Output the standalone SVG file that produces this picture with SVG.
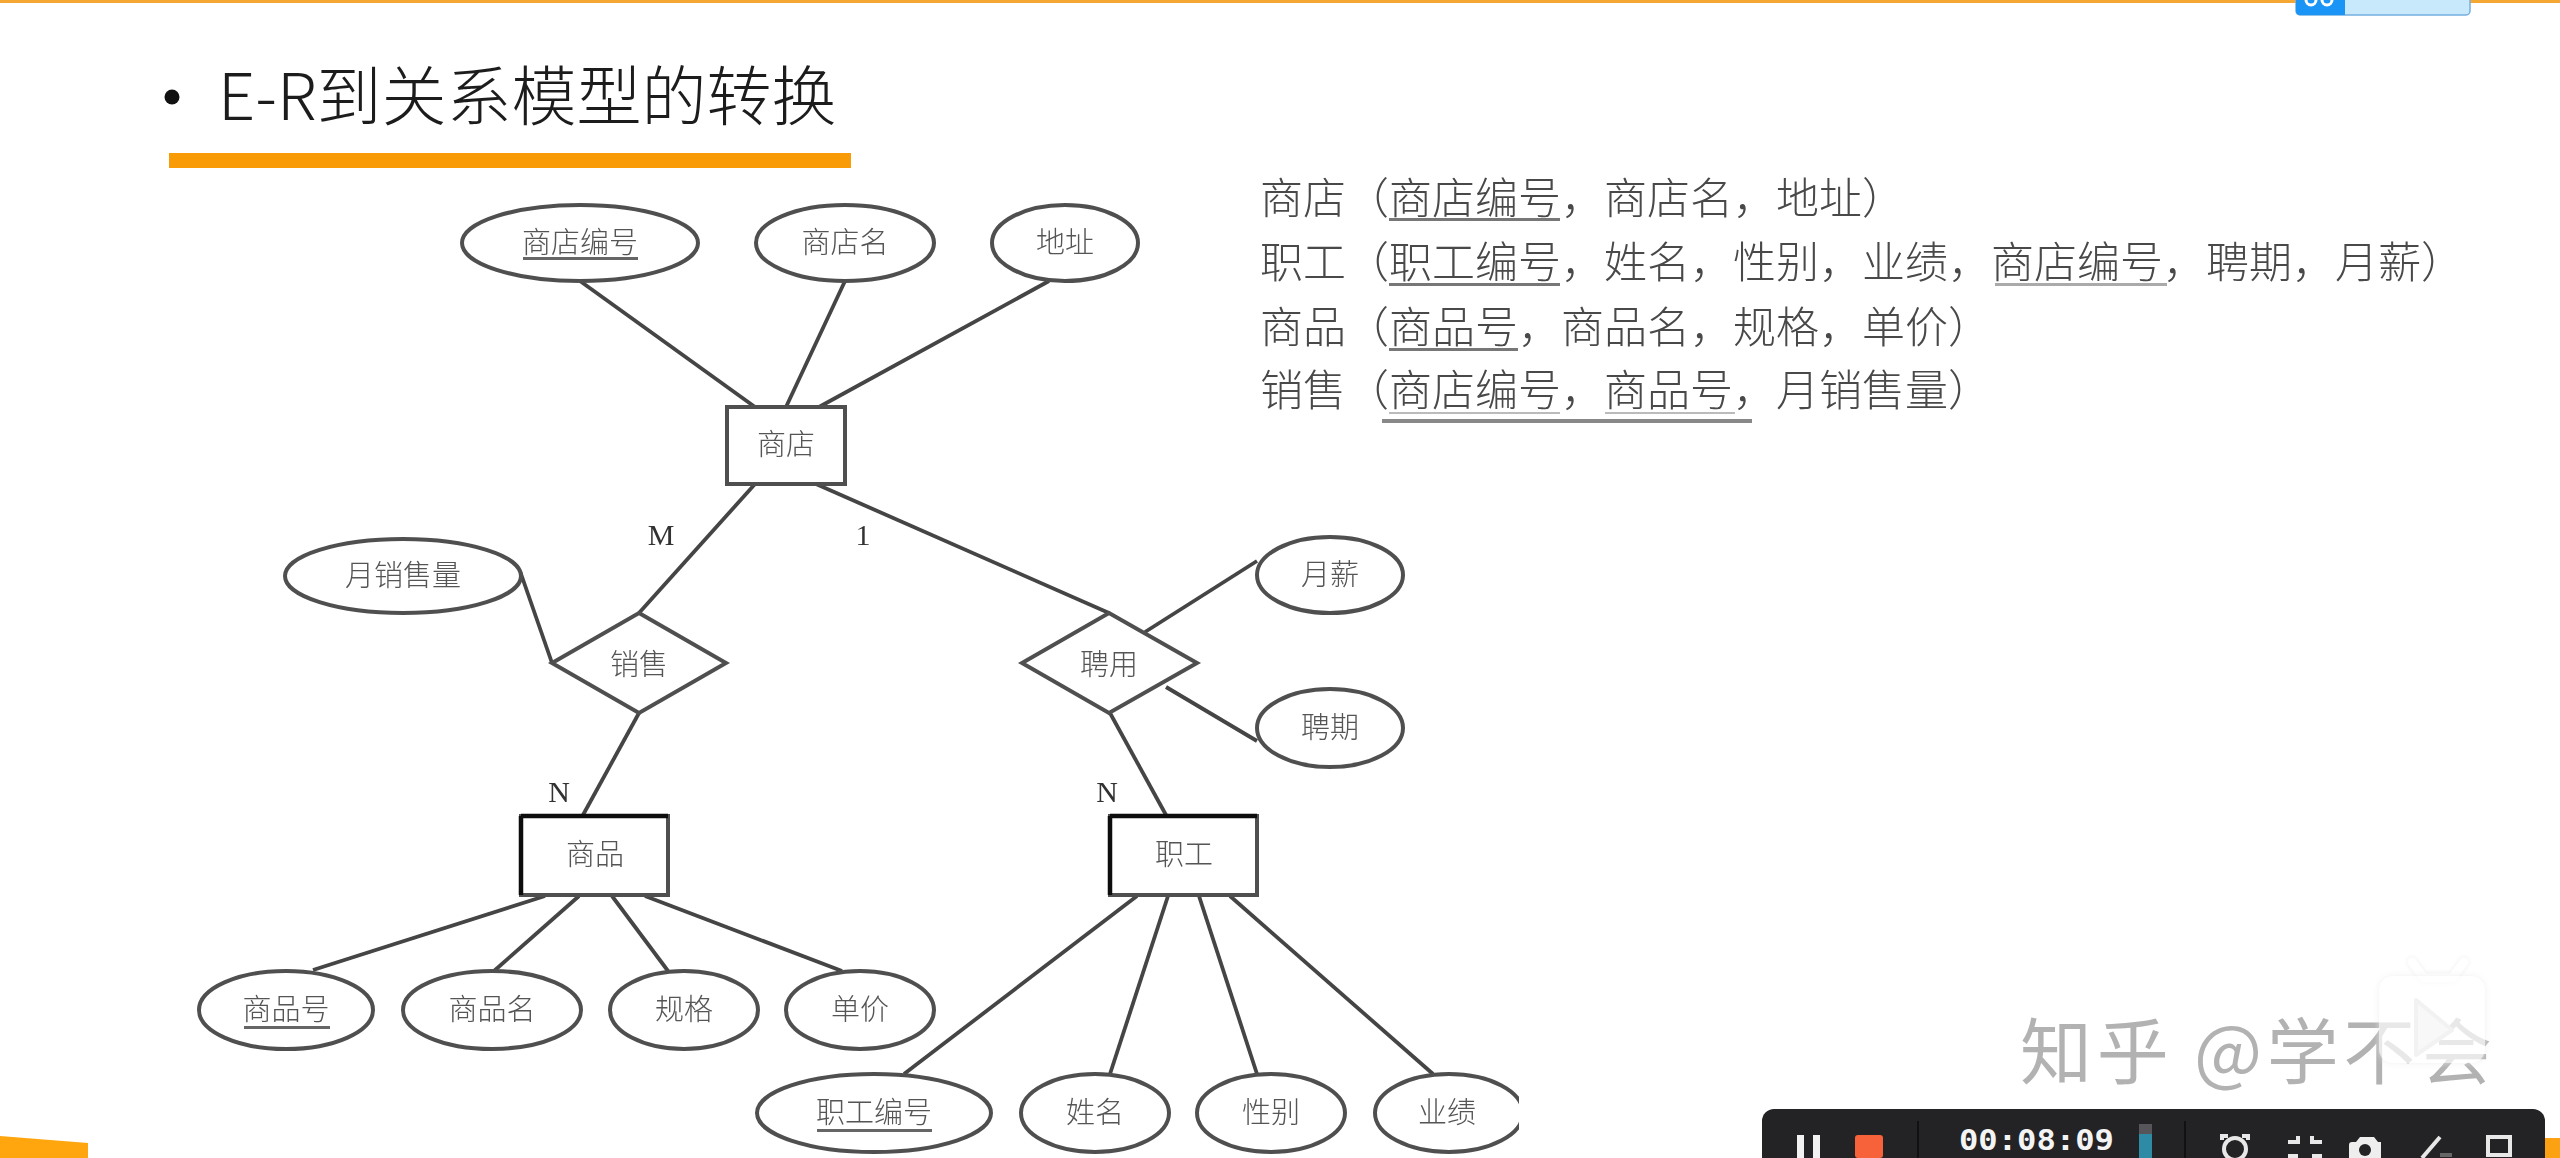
<svg xmlns="http://www.w3.org/2000/svg" width="2560" height="1158" viewBox="0 0 2560 1158">
<style>
text{font-family:"Noto Sans CJK SC","Noto Sans",sans-serif}
.l{font-size:29px;fill:#555;text-anchor:middle;font-weight:300}
.s{fill:#fff;stroke:#505050;stroke-width:4}
.c line{stroke:#444;stroke-width:3.8}
.m{font-family:"Liberation Serif",serif;font-size:30px;fill:#333;text-anchor:middle}
.r{font-size:43px;fill:#484848;font-weight:300}
.u{fill:#666}
.f{fill:#777}
.i{fill:none;stroke:#e8e8e8;stroke-width:4}
</style>
<defs><filter id="b" x="-5%" y="-5%" width="110%" height="110%"><feGaussianBlur stdDeviation="0.7"/></filter></defs>
<rect width="2560" height="1158" fill="#fff"/>
<rect width="2560" height="3" fill="#f5a733"/>
<g id="badge"><rect x="2296" y="-6" width="174" height="21" rx="4" fill="#c8e8fb" stroke="#74aee0" stroke-width="1.5"/><path d="M2296 0H2345V15H2300a4 4 0 0 1-4-4Z" fill="#1a95f5"/><circle cx="2311" cy="0" r="5" fill="none" stroke="#fff" stroke-width="3"/><circle cx="2327" cy="0" r="5" fill="none" stroke="#fff" stroke-width="3"/></g>
<g id="title">
<circle cx="172" cy="97" r="7.5" fill="#111"/>
<text x="218" y="120" font-size="65" fill="#1c1c1c" font-weight="300">E-R到关系模型的转换</text>
<rect x="169" y="153" width="682" height="15" fill="#f99b06"/>
</g>
<g filter="url(#b)">
<g id="connectors" class="c">
<line x1="580" y1="281" x2="755" y2="407"/>
<line x1="845" y1="281" x2="786" y2="407"/>
<line x1="1049" y1="281" x2="819" y2="407"/>
<line x1="755" y1="484" x2="639" y2="613"/>
<line x1="816" y1="484" x2="1109" y2="613"/>
<line x1="520" y1="571" x2="552" y2="663"/>
<line x1="1257" y1="561" x2="1145" y2="632"/>
<line x1="1166" y1="687" x2="1257" y2="741"/>
<line x1="639" y1="713" x2="583" y2="815"/>
<line x1="1110" y1="713" x2="1166" y2="815"/>
<line x1="545" y1="896" x2="313" y2="970"/>
<line x1="579" y1="896" x2="494" y2="971"/>
<line x1="612" y1="896" x2="668" y2="971"/>
<line x1="645" y1="896" x2="842" y2="971"/>
<line x1="1137" y1="896" x2="904" y2="1074"/>
<line x1="1168" y1="896" x2="1110" y2="1074"/>
<line x1="1199" y1="896" x2="1257" y2="1074"/>
<line x1="1230" y1="896" x2="1433" y2="1074"/>
</g>
<g id="n-store-no"><ellipse class="s" cx="580" cy="243" rx="118" ry="38"/><text class="l" x="580" y="253">商店编号</text><rect class="u" x="523" y="257" width="115" height="3"/></g>
<g id="n-store-name"><ellipse class="s" cx="845" cy="243" rx="89" ry="38"/><text class="l" x="845" y="253">商店名</text></g>
<g id="n-addr"><ellipse class="s" cx="1065" cy="243" rx="73" ry="38"/><text class="l" x="1065" y="253">地址</text></g>
<g id="n-store"><rect class="s" x="727" y="407" width="118" height="77"/><text class="l" x="786" y="455">商店</text></g>
<text class="m" x="661" y="545">M</text>
<text class="m" x="863" y="545">1</text>
<g id="n-monthly-sales"><ellipse class="s" cx="403" cy="576" rx="118" ry="37"/><text class="l" x="403" y="586">月销售量</text></g>
<g id="n-sales"><polygon class="s" points="639,613 726,663 639,713 552,663"/><text class="l" x="639" y="675">销售</text></g>
<g id="n-hire"><polygon class="s" points="1109,613 1197,663 1109,713 1022,663"/><text class="l" x="1109" y="675">聘用</text></g>
<g id="n-salary"><ellipse class="s" cx="1330" cy="575" rx="73" ry="38"/><text class="l" x="1330" y="585">月薪</text></g>
<g id="n-term"><ellipse class="s" cx="1330" cy="728" rx="73" ry="39"/><text class="l" x="1330" y="738">聘期</text></g>
<text class="m" x="559" y="802">N</text>
<text class="m" x="1107" y="802">N</text>
<g id="n-goods"><rect class="s" x="521" y="816" width="147" height="79"/><path d="M521 816H668M521 816V895" fill="none" stroke="#111" stroke-width="4.5"/><text class="l" x="595" y="865">商品</text></g>
<g id="n-staff"><rect class="s" x="1110" y="816" width="147" height="79"/><path d="M1110 816H1257M1110 816V895" fill="none" stroke="#111" stroke-width="4.5"/><text class="l" x="1184" y="865">职工</text></g>
<g id="n-goods-no"><ellipse class="s" cx="286" cy="1010" rx="87" ry="39"/><text class="l" x="286" y="1020">商品号</text><rect class="u" x="244" y="1026" width="86" height="3"/></g>
<g id="n-goods-name"><ellipse class="s" cx="492" cy="1010" rx="89" ry="39"/><text class="l" x="492" y="1020">商品名</text></g>
<g id="n-spec"><ellipse class="s" cx="684" cy="1010" rx="74" ry="39"/><text class="l" x="684" y="1020">规格</text></g>
<g id="n-price"><ellipse class="s" cx="860" cy="1010" rx="74" ry="39"/><text class="l" x="860" y="1020">单价</text></g>
<g id="n-staff-no"><ellipse class="s" cx="874" cy="1113" rx="117" ry="39"/><text class="l" x="874" y="1123">职工编号</text><rect class="u" x="817" y="1129" width="115" height="3"/></g>
<g id="n-sname"><ellipse class="s" cx="1095" cy="1113" rx="74" ry="39"/><text class="l" x="1095" y="1123">姓名</text></g>
<g id="n-sex"><ellipse class="s" cx="1271" cy="1113" rx="74" ry="39"/><text class="l" x="1271" y="1123">性别</text></g>
<g id="n-perf"><ellipse class="s" cx="1449" cy="1113" rx="74" ry="39"/><text class="l" x="1447" y="1123">业绩</text><rect x="1519" y="1070" width="6" height="86" fill="#fff"/></g>
</g>
<g id="schema" filter="url(#b)">
<text class="r" x="1260" y="214">商店（商店编号，商店名，地址）</text>
<text class="r" x="1260" y="278">职工（职工编号，姓名，性别，业绩，商店编号，聘期，月薪）</text>
<text class="r" x="1260" y="343">商品（商品号，商品名，规格，单价）</text>
<text class="r" x="1260" y="406">销售（商店编号，商品号，月销售量）</text>
<rect class="f" x="1389" y="218" width="171" height="3"/>
<rect class="f" x="1389" y="283" width="171" height="3"/>
<rect x="1995" y="283" width="172" height="3" fill="#aaa"/>
<rect class="f" x="1389" y="348" width="129" height="3"/>
<rect x="1389" y="412" width="171" height="2" fill="#bbb"/>
<rect x="1605" y="412" width="130" height="2" fill="#bbb"/>
<rect x="1382" y="419" width="370" height="4" fill="#888"/>
</g>
<g id="watermark">
<text x="2020" y="1078" font-size="72" fill="#b2b2b2" textLength="472" lengthAdjust="spacing">知乎 @学不会</text>
<g id="tv-logo" fill="#fff"><path d="M2412 962 2424 978H2452L2464 962" fill="none" stroke="#fff" stroke-width="9" stroke-linecap="round" stroke-linejoin="round" style="filter:drop-shadow(0 0 2px #eee)"/><rect x="2379" y="976" width="106" height="87" rx="14" opacity=".7" style="filter:drop-shadow(0 0 3px #ebebeb)"/><polygon points="2416,1000 2452,1030 2416,1055" fill="#f8f8f8" stroke="#f2f2f2" stroke-width="4" stroke-linejoin="round"/></g>
</g>
<polygon id="corner-left" points="0,1136 88,1143 88,1158 0,1158" fill="#ffa60f"/>
<rect id="corner-right" x="2540" y="1138" width="20" height="20" fill="#fca111"/>
<g id="recorder">
<path d="M1762 1158V1121a12 12 0 0 1 12-12H2533a12 12 0 0 1 12 12V1158Z" fill="#232326"/>
<rect x="1797" y="1135" width="7" height="23" fill="#f2f2f2"/><rect x="1813" y="1135" width="7" height="23" fill="#f2f2f2"/>
<rect x="1855" y="1135" width="28" height="23" rx="3" fill="#f8623a"/>
<rect x="1917" y="1121" width="2" height="37" fill="#111"/><rect x="2184" y="1121" width="2" height="37" fill="#111"/>
<text x="1959" y="1150" font-size="29" fill="#f4f4f4" font-weight="700" textLength="155" lengthAdjust="spacingAndGlyphs" style="font-family:'DejaVu Sans Mono',monospace">00:08:09</text>
<rect x="2139" y="1124" width="13" height="10" fill="#56565a"/><rect x="2139" y="1134" width="13" height="24" fill="#2e8ba6"/>
<g class="i"><circle cx="2235" cy="1149" r="11"/><path d="M2222 1140V1136H2228M2248 1140V1136H2242"/>
<path d="M2288 1142H2298V1136M2322 1142H2312V1136M2288 1156H2298M2322 1156H2312"/>
<path d="M2349 1158V1145a3 3 0 0 1 3-3H2356L2360 1137H2374L2378 1142H2381V1158Z" fill="#eee" stroke="none"/><circle cx="2365" cy="1150" r="6" fill="#232326" stroke="none"/>
<path d="M2440 1137 2422 1158"/><path d="M2452 1155H2440" stroke="#666"/>
<rect x="2488" y="1137" width="22" height="18" /></g>
</g>
</svg>
